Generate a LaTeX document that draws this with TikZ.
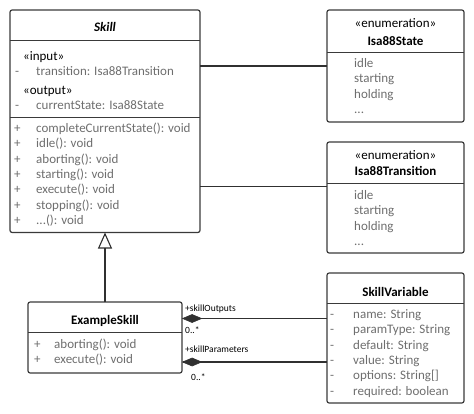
\documentclass[tikz,border=0pt]{standalone}
\usepackage{fontspec}
\setmainfont{Carlito}
\usetikzlibrary{arrows.meta}
\definecolor{boxc}{HTML}{3A3A3A}
\definecolor{itemc}{HTML}{6E6E6E}
\definecolor{linec}{HTML}{303030}
\newcommand\mydots{...}
\begin{document}
\begin{tikzpicture}[x=1pt,y=-1pt,
  umlbox/.style={draw=boxc,line width=1.2pt,rounded corners=2.2pt},
  sep/.style={draw=boxc,line width=1pt},
  item/.style={font=\fontsize{13}{15}\selectfont,text=itemc,anchor=base west,inner sep=0pt},
  stereo/.style={font=\fontsize{13}{15}\selectfont,text=black,anchor=base west,inner sep=0pt},
  stereoc/.style={font=\fontsize{13}{15}\selectfont,text=black,anchor=base,inner sep=0pt},
  title/.style={font=\fontsize{13}{15}\selectfont\bfseries,text=black,anchor=base,inner sep=0pt},
  small/.style={font=\fontsize{9.5}{11}\selectfont,text=black,anchor=base west,inner sep=0pt},
  conn/.style={draw=linec,line width=1.2pt},
  gen/.style={conn,-{Triangle[open,length=16pt,width=14pt,line width=1.1pt]}},
  dia/.style={fill=linec,draw=linec,line width=0.6pt,line join=miter}
]
\useasboundingbox (0,0) rectangle (474,413);

% ---------- Skill ----------
\draw[umlbox] (10,10) rectangle (200,232.5);
\draw[sep] (10,40) -- (200,40);
\draw[sep] (10,117) -- (200,117);
\node[title] (skillt) at (105,31.5) {\itshape Skill};
\node[stereo] (sin) at (23,60.5) {«input»};
\node[item] (sa1m) at (15,75.5) {-};
\node[item] (sa1) at (36,75.5) {transition: Isa88Transition};
\node[stereo] (sout) at (23,94.5) {«output»};
\node[item] (sa2m) at (15,109.5) {-};
\node[item] (sa2) at (36,109.5) {currentState: Isa88State};
\foreach \t [count=\i from 0] in {completeCurrentState(): void, idle(): void, aborting(): void, starting(): void, execute(): void, stopping(): void, \mydots(): void}{
  \node[item] (sop\i m) at (14,132.5+15.3*\i) {+};
  \node[item] (sop\i) at (36,132.5+15.3*\i) {\t};
}
\coordinate (skillR1) at (200,66);
\coordinate (skillR2) at (200,186.5);
\coordinate (skillB) at (105,232.5);

% ---------- Isa88State ----------
\draw[umlbox] (327,10) rectangle (464,122);
\draw[sep] (327,52) -- (464,52);
\node[stereoc] (st1) at (395.5,27.5) {«enumeration»};
\node[title] (st2) at (395.5,45.5) {Isa88State};
\foreach \t [count=\i from 0] in {idle, starting, holding, \mydots}{
  \node[item] (sti\i) at (354,67.5+15.3*\i) {\t};
}
\coordinate (stL) at (327,66);

% ---------- Isa88Transition ----------
\draw[umlbox] (327,142) rectangle (464,253);
\draw[sep] (327,183) -- (464,183);
\node[stereoc] (tr1) at (395.5,159.5) {«enumeration»};
\node[title] (tr2) at (395.5,175.5) {Isa88Transition};
\foreach \t [count=\i from 0] in {idle, starting, holding, \mydots}{
  \node[item] (tri\i) at (354,199.5+15.3*\i) {\t};
}
\coordinate (trL) at (327,186.5);

% ---------- ExampleSkill ----------
\draw[umlbox] (28,302) rectangle (182,373);
\draw[sep] (28,332) -- (182,332);
\node[title] (ext) at (105,324.5) {ExampleSkill};
\node[item] (ex1m) at (34,348.5) {+};
\node[item] (ex1) at (54,348.5) {aborting(): void};
\node[item] (ex2m) at (34,363.8) {+};
\node[item] (ex2) at (54,363.8) {execute(): void};
\coordinate (exT) at (105,302);
\coordinate (exR1) at (182.6,318.5);
\coordinate (exR2) at (182.6,362);

% ---------- SkillVariable ----------
\draw[umlbox] (327,273) rectangle (464,403);
\draw[sep] (327,303) -- (464,303);
\node[title] (svt) at (395.5,296.5) {SkillVariable};
\foreach \t [count=\i from 0] in {name: String, paramType: String, default: String, value: String, options: String[], required: boolean}{
  \node[item] (sv\i m) at (330,318.5+15.3*\i) {-};
  \node[item] (sv\i) at (353,318.5+15.3*\i) {\t};
}
\coordinate (svL1) at (327,318.5);
\coordinate (svL2) at (327,362);

% ---------- connectors ----------
\draw[conn] (skillR1) -- (stL);
\draw[conn] (skillR2) -- (trL);
\draw[gen] (exT) -- (skillB);
\draw[conn] (exR1) -- (svL1);
\draw[conn] (exR2) -- (svL2);
\draw[dia] (exR1) -- ++(9.5,-4) -- ++(9.5,4) -- ++(-9.5,4) -- cycle;
\draw[dia] (exR2) -- ++(9.5,-4) -- ++(9.5,4) -- ++(-9.5,4) -- cycle;

\node[small] (l1) at (185,311) {+skillOutputs};
\node[small] (l2) at (185,333.5) {0..*};
\node[small] (l3) at (185,352.5) {+skillParameters};
\node[small] (l4) at (191,380.5) {0..*};
\end{tikzpicture}
\end{document}
